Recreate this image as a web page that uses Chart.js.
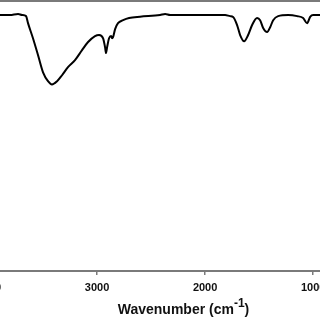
<!DOCTYPE html>
<html>
<head>
<meta charset="utf-8">
<script src="https://cdn.jsdelivr.net/npm/chart.js@4"></script>
<style>
  html, body { margin: 0; padding: 0; background: #fff; overflow: hidden; }
  #wrap { position: relative; width: 320px; height: 320px; overflow: hidden; }
  #grafica { position: absolute; left: -31px; top: 0; }
</style>
</head>
<body>
<div id="wrap"><canvas id="grafica" width="429" height="320"></canvas></div>
<script>
// FTIR spectrum
const wavenumbers = [3898, 3806, 3731, 3694, 3657, 3639, 3593, 3546, 3500, 3454, 3417, 3370, 3324, 3269, 3204, 3139, 3083, 3019, 2981, 2944, 2926, 2917, 2907, 2889, 2870, 2861, 2852, 2833, 2806, 2759, 2704, 2602, 2417, 2370, 2324, 2046, 1815, 1769, 1741, 1704, 1676, 1639, 1602, 1565, 1519, 1491, 1463, 1426, 1398, 1370, 1324, 1231, 1148, 1093, 1056, 1028, 1000, 935, 900]
const transmittance = [94.8, 94.8, 95.2, 94.8, 94.4, 91.8, 86.2, 79.9, 73.6, 70.3, 69.1, 70.3, 72.5, 75.5, 78.1, 81.8, 84.8, 87.0, 87.4, 86.2, 82.9, 80.7, 82.9, 86.2, 87.0, 86.2, 86.6, 89.6, 91.8, 92.9, 93.7, 94.2, 94.8, 95.2, 94.8, 94.8, 94.8, 94.4, 94.1, 91.1, 87.4, 85.1, 87.4, 91.1, 93.7, 92.9, 90.0, 88.5, 90.3, 92.9, 94.4, 94.8, 94.4, 93.7, 91.8, 94.1, 94.8, 94.8, 94.8]
const xTicks = [4000, 3000, 2000, 1000]

const puntos = wavenumbers.map((w, i) => { return {x: w, y: transmittance[i]} })

const axisGray = '#7a7a7a'

// axis title with a real superscript
const tituloEje = {
    id: 'tituloEje',
    afterDraw(chart) {
        const ctx = chart.ctx
        const sx = chart.scales.x
        const cx = (sx.left + sx.right) / 2
        const base = 314
        const f1 = 'bold 14px Arial, "Liberation Sans", sans-serif'
        const f2 = 'bold 12px Arial, "Liberation Sans", sans-serif'
        ctx.save()
        ctx.fillStyle = '#111'
        ctx.textBaseline = 'alphabetic'
        ctx.textAlign = 'left'
        ctx.font = f1
        const w1 = ctx.measureText('Wavenumber (cm').width
        const w3 = ctx.measureText(')').width
        ctx.font = f2
        const w2 = ctx.measureText('-1').width
        let x = cx - (w1 + w2 + w3) / 2
        ctx.font = f1
        ctx.fillText('Wavenumber (cm', x, base)
        x += w1
        ctx.font = f2
        ctx.fillText('-1', x, base - 7)
        x += w2
        ctx.font = f1
        ctx.fillText(')', x, base)
        ctx.restore()
    }
}

const config = {
    type: 'line',
    data: {
        datasets: [{
            data: puntos,
            borderColor: '#000000',
            borderWidth: 2,
            pointRadius: 0,
            fill: false,
            cubicInterpolationMode: 'monotone'
        }]
    },
    options: {
        responsive: false,
        animation: false,
        layout: { padding: { left: 20, right: 20, top: 1, bottom: 0 } },
        plugins: { legend: { display: false }, tooltip: { enabled: false } },
        scales: {
            x: {
                type: 'linear',
                position: 'bottom',
                reverse: true,
                min: 400,
                max: 4000,
                afterFit: (scale) => { scale.height = 49 },
                afterBuildTicks: (scale) => { scale.ticks = xTicks.map(v => ({value: v})) },
                grid: { drawOnChartArea: false, drawTicks: true, tickLength: 4, color: axisGray, lineWidth: 1.5 },
                border: { display: true, color: axisGray, width: 2 },
                ticks: {
                    padding: 6,
                    maxRotation: 0,
                    color: '#111',
                    callback: (value) => String(value),
                    font: { family: 'Arial, "Liberation Sans", sans-serif', size: 11, weight: 'bold' }
                }
            },
            x2: {
                type: 'linear',
                position: 'top',
                reverse: true,
                min: 400,
                max: 4000,
                afterFit: (scale) => { scale.height = 0 },
                grid: { display: false, drawTicks: false },
                border: { display: true, color: axisGray, width: 2 },
                ticks: { display: false }
            },
            y: {
                display: false,
                min: 0,
                max: 100
            }
        }
    },
    plugins: [tituloEje]
}

window.graficaUno = new Chart(document.getElementById('grafica'), config)
</script>
</body>
</html>
